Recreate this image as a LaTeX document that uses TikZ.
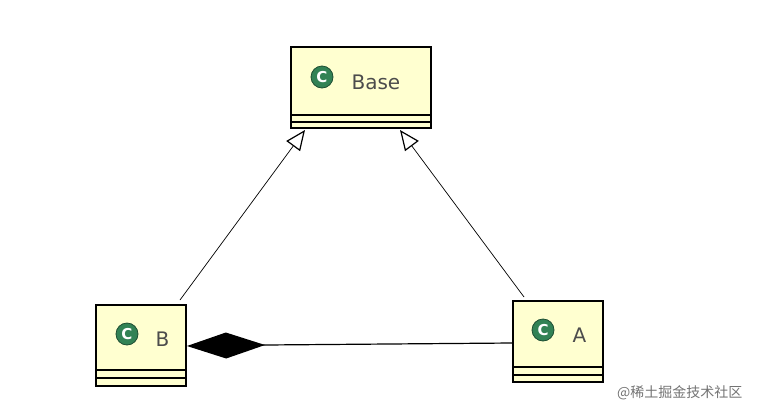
\documentclass[tikz,border=0pt]{standalone}
\usepackage{fontspec}
\setmainfont{DejaVu Sans}
\newfontfamily\cjk{Noto Sans CJK SC}
\usetikzlibrary{arrows.meta}
\definecolor{boxfill}{RGB}{255,255,208}
\definecolor{icong}{RGB}{50,130,85}
\tikzset{
  cls/.style={draw=black, line width=1.6pt, fill=boxfill},
  sep/.style={line width=1.4pt},
  icon/.style={circle, fill=icong, draw=icong!60!black, line width=0.8pt, inner sep=0pt, minimum size=22pt, text=white, font=\bfseries\fontsize{15}{15}\selectfont},
  lbl/.style={font=\fontsize{20}{20}\selectfont, text=black!70},
  rel/.style={line width=0.7pt}
}
\begin{document}
\begin{tikzpicture}[x=1pt,y=-1pt]
\useasboundingbox (0,0) rectangle (758,416);
% Base
\draw[cls] (291,47) rectangle (431,128);
\draw[sep] (291,115) -- (431,115); \draw[sep] (291,122) -- (431,122);
\node[icon] (ib) at (322,77) {C};
\node[lbl, anchor=west] (base) at (348,82) {Base};
\coordinate (bl) at (305,130); \coordinate (br) at (400,130);
% B
\draw[cls] (96,305) rectangle (186,386);
\draw[sep] (96,370) -- (186,370); \draw[sep] (96,378) -- (186,378);
\node[icon] (i1) at (127,334) {C};
\node[lbl, anchor=west] (b) at (152,339) {B};
\coordinate (bt) at (180,300); \coordinate (bd) at (187,346);
% A
\draw[cls] (513,301) rectangle (603,382);
\draw[sep] (513,367) -- (603,367); \draw[sep] (513,375) -- (603,375);
\node[icon] (i2) at (543,330) {C};
\node[lbl, anchor=west] (a) at (569,335) {A};
\coordinate (at) at (524,297); \coordinate (ad) at (512,343);
% relations
\draw[rel, -{Triangle[open, length=20pt, width=17pt, fill=white, line width=1.2pt]}] (bt) -- (bl);
\draw[rel, -{Triangle[open, length=20pt, width=17pt, fill=white, line width=1.2pt]}] (at) -- (br);
\draw[rel, line width=1.2pt] (ad) -- (265,345);
\draw[rel, line width=1.2pt, -{Diamond[length=78pt, width=26pt, fill=black]}] (265,345) -- (bd);
\node[font=\cjk\fontsize{14}{14}\selectfont, text=black!55, anchor=east] (wm) at (746,393) {@稀土掘金技术社区};
\end{tikzpicture}
\end{document}
